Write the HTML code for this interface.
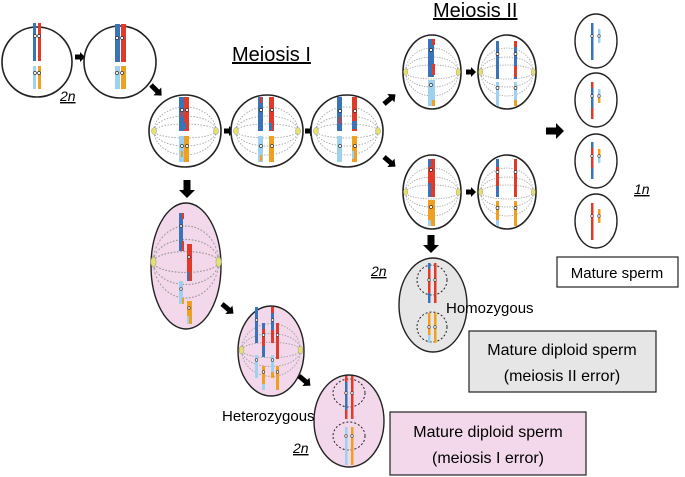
<!DOCTYPE html>
<html><head><meta charset="utf-8"><style>
html,body{margin:0;padding:0;background:#fff;}
svg{display:block;font-family:"Liberation Sans",Arial,sans-serif;}
</style></head><body>
<svg width="685" height="477" viewBox="0 0 685 477" xmlns="http://www.w3.org/2000/svg">
<defs>
<g id="sp">
 <g fill="none" stroke="#999" stroke-width="0.8" stroke-dasharray="1.5,1.5">
  <ellipse cx="0" cy="0" rx="31" ry="7"/>
  <ellipse cx="0" cy="0" rx="31" ry="15"/>
  <ellipse cx="0" cy="0" rx="31" ry="24"/>
 </g>
 <ellipse cx="-31" cy="0" rx="2.5" ry="3.5" fill="#e6e070" stroke="#999" stroke-width="0.5"/>
 <ellipse cx="31" cy="0" rx="2.5" ry="3.5" fill="#e6e070" stroke="#999" stroke-width="0.5"/>
</g>
<g id="spc"><circle r="36" fill="#fff" stroke="#222" stroke-width="1.6"/><use href="#sp"/></g>
<g id="spe"><ellipse rx="29" ry="37" fill="#fff" stroke="#222" stroke-width="1.6"/><g transform="scale(0.85,1)"><use href="#sp"/></g></g>
<g id="arr"><path d="M0,-2.5 L5,-2.5 L5,-5 L10,0 L5,5 L5,2.5 L0,2.5Z" fill="#000"/></g>
<g id="darr"><path d="M0,-2.5 L9,-2.5 L9,-5.5 L15,0 L9,5.5 L9,2.5 L0,2.5Z" fill="#000"/></g>
<g id="bigarr"><path d="M0,-3.5 L10,-3.5 L10,-8 L18,0 L10,8 L10,3.5 L0,3.5Z" fill="#000"/></g>
</defs>

<circle cx="37" cy="62" r="35" fill="#fff" stroke="#222" stroke-width="1.6"/>
<rect x="33" y="23" width="3" height="38" fill="#3a74b8"/><rect x="38" y="23" width="3" height="38" fill="#e03a2a"/>
<rect x="33" y="66" width="3" height="23" fill="#9fd0ee"/><rect x="38" y="66" width="3" height="23" fill="#f0a020"/>
<circle cx="35" cy="36" r="1.5" fill="#fff" stroke="#333" stroke-width="0.7"/><circle cx="39" cy="36" r="1.5" fill="#fff" stroke="#333" stroke-width="0.7"/>
<circle cx="35" cy="73" r="1.5" fill="#fff" stroke="#333" stroke-width="0.7"/><circle cx="39" cy="73" r="1.5" fill="#fff" stroke="#333" stroke-width="0.7"/>
<use href="#arr" x="75" y="57"/>
<circle cx="120" cy="62" r="36" fill="#fff" stroke="#222" stroke-width="1.6"/>
<rect x="115" y="24" width="5" height="38" fill="#3a74b8"/><rect x="121" y="24" width="5" height="38" fill="#e03a2a"/>
<rect x="115" y="66" width="5" height="23" fill="#9fd0ee"/><rect x="121" y="66" width="5" height="23" fill="#f0a020"/>
<circle cx="117" cy="38" r="1.5" fill="#fff" stroke="#333" stroke-width="0.7"/><circle cx="122" cy="38" r="1.5" fill="#fff" stroke="#333" stroke-width="0.7"/>
<circle cx="117" cy="73" r="1.5" fill="#fff" stroke="#333" stroke-width="0.7"/><circle cx="122" cy="73" r="1.5" fill="#fff" stroke="#333" stroke-width="0.7"/>
<text x="60" y="101" font-size="14" font-style="italic" text-decoration="underline">2n</text>
<text x="232" y="61" font-size="20" text-decoration="underline">Meiosis I</text>
<use href="#darr" transform="translate(151,85) rotate(45)"/>

<g transform="translate(185,131)"><use href="#spc"/>
 <rect x="-6" y="-34" width="5" height="34" fill="#3a74b8"/><rect x="-1" y="-34" width="5" height="34" fill="#e03a2a"/>
 <rect x="-4" y="-20" width="2" height="6" fill="#e03a2a"/><rect x="-1" y="-8" width="2" height="6" fill="#3a74b8"/>
 <rect x="-6" y="5" width="5" height="26" fill="#9fd0ee"/><rect x="-1" y="5" width="5" height="26" fill="#f0a020"/>
 <rect x="-4" y="20" width="2" height="6" fill="#f0a020"/>
 <circle cx="-3" cy="-21" r="1.5" fill="#fff" stroke="#333" stroke-width="0.7"/><circle cx="2" cy="-21" r="1.5" fill="#fff" stroke="#333" stroke-width="0.7"/>
 <circle cx="-3" cy="15" r="1.5" fill="#fff" stroke="#333" stroke-width="0.7"/><circle cx="2" cy="15" r="1.5" fill="#fff" stroke="#333" stroke-width="0.7"/>
</g>
<use href="#arr" x="224" y="131"/>
<g transform="translate(267,131)"><use href="#spc"/>
 <rect x="-9" y="-34" width="5" height="34" fill="#3a74b8"/><rect x="2" y="-34" width="5" height="34" fill="#e03a2a"/>
 <rect x="-7" y="-34" width="2" height="6" fill="#e03a2a"/><rect x="2" y="-8" width="3" height="7" fill="#3a74b8"/>
 <rect x="-9" y="5" width="5" height="26" fill="#9fd0ee"/><rect x="2" y="5" width="5" height="26" fill="#f0a020"/>
 <rect x="-7" y="24" width="2" height="6" fill="#f0a020"/>
 <circle cx="-6" cy="-21" r="1.5" fill="#fff" stroke="#333" stroke-width="0.7"/><circle cx="5" cy="-21" r="1.5" fill="#fff" stroke="#333" stroke-width="0.7"/>
 <circle cx="-6" cy="15" r="1.5" fill="#fff" stroke="#333" stroke-width="0.7"/><circle cx="5" cy="15" r="1.5" fill="#fff" stroke="#333" stroke-width="0.7"/>
</g>
<use href="#arr" x="305" y="131"/>
<g transform="translate(347,131)"><use href="#spc"/>
 <rect x="-10" y="-34" width="5" height="34" fill="#3a74b8"/><rect x="5" y="-34" width="5" height="34" fill="#e03a2a"/>
 <rect x="-8" y="-14" width="2" height="7" fill="#e03a2a"/><rect x="5" y="-10" width="5" height="8" fill="#3a74b8"/>
 <rect x="-10" y="5" width="5" height="26" fill="#9fd0ee"/><rect x="5" y="5" width="5" height="26" fill="#f0a020"/>
 <rect x="5" y="20" width="2" height="8" fill="#9fd0ee"/>
 <circle cx="-7" cy="-20" r="1.5" fill="#fff" stroke="#333" stroke-width="0.7"/><circle cx="8" cy="-20" r="1.5" fill="#fff" stroke="#333" stroke-width="0.7"/>
 <circle cx="-7" cy="15" r="1.5" fill="#fff" stroke="#333" stroke-width="0.7"/><circle cx="8" cy="15" r="1.5" fill="#fff" stroke="#333" stroke-width="0.7"/>
</g>
<use href="#darr" transform="translate(384,104) rotate(-40)"/>
<use href="#darr" transform="translate(384,157) rotate(40)"/>

<text x="433" y="17" font-size="20" text-decoration="underline">Meiosis II</text>
<g transform="translate(432,72)"><use href="#spe"/>
 <rect x="-4" y="-33" width="4" height="38" fill="#3a74b8"/><rect x="0" y="-33" width="2" height="38" fill="#3a74b8"/><rect x="0" y="-33" width="3" height="6" fill="#e03a2a"/><rect x="0" y="-8" width="3" height="11" fill="#e03a2a"/>
 <rect x="-4" y="8" width="7" height="26" fill="#9fd0ee"/><rect x="0" y="28" width="3" height="6" fill="#f0a020"/>
 <circle cx="-1" cy="-22" r="1.5" fill="#fff" stroke="#333" stroke-width="0.7"/><circle cx="-1" cy="13" r="1.5" fill="#fff" stroke="#333" stroke-width="0.7"/>
</g>
<use href="#arr" x="466" y="72"/>
<g transform="translate(507,72)"><use href="#spe"/>
 <rect x="-11" y="-31" width="3" height="38" fill="#3a74b8"/><rect x="7" y="-31" width="3" height="38" fill="#3a74b8"/><rect x="7" y="-31" width="3" height="6" fill="#e03a2a"/><rect x="7" y="-6" width="3" height="11" fill="#e03a2a"/>
 <rect x="-11" y="10" width="3" height="24" fill="#9fd0ee"/><rect x="7" y="10" width="3" height="24" fill="#9fd0ee"/><rect x="7" y="28" width="3" height="6" fill="#f0a020"/>
 <circle cx="-9.5" cy="-18" r="1.5" fill="#fff" stroke="#333" stroke-width="0.7"/><circle cx="8.5" cy="-18" r="1.5" fill="#fff" stroke="#333" stroke-width="0.7"/>
 <circle cx="-9.5" cy="16" r="1.5" fill="#fff" stroke="#333" stroke-width="0.7"/><circle cx="8.5" cy="16" r="1.5" fill="#fff" stroke="#333" stroke-width="0.7"/>
</g>
<g transform="translate(432,192)"><use href="#spe"/>
 <rect x="-4" y="-33" width="3" height="38" fill="#3a74b8"/><rect x="-1" y="-33" width="4" height="38" fill="#e03a2a"/><rect x="-4" y="-25" width="3" height="16" fill="#e03a2a"/>
 <rect x="-4" y="8" width="3" height="26" fill="#f0a020"/><rect x="-1" y="8" width="4" height="26" fill="#f0a020"/><rect x="-4" y="28" width="3" height="6" fill="#9fd0ee"/>
 <circle cx="-1" cy="-22" r="1.5" fill="#fff" stroke="#333" stroke-width="0.7"/><circle cx="-1" cy="15" r="1.5" fill="#fff" stroke="#333" stroke-width="0.7"/>
</g>
<use href="#arr" x="466" y="192"/>
<g transform="translate(507,192)"><use href="#spe"/>
 <rect x="-11" y="-33" width="3" height="38" fill="#e03a2a"/><rect x="-11" y="-33" width="3" height="8" fill="#3a74b8"/><rect x="-11" y="-6" width="3" height="11" fill="#3a74b8"/><rect x="7" y="-33" width="3" height="38" fill="#e03a2a"/>
 <rect x="-11" y="9" width="3" height="25" fill="#f0a020"/><rect x="-11" y="28" width="3" height="6" fill="#9fd0ee"/><rect x="7" y="9" width="3" height="25" fill="#f0a020"/>
 <circle cx="-9.5" cy="-20" r="1.5" fill="#fff" stroke="#333" stroke-width="0.7"/><circle cx="8.5" cy="-20" r="1.5" fill="#fff" stroke="#333" stroke-width="0.7"/>
 <circle cx="-9.5" cy="16" r="1.5" fill="#fff" stroke="#333" stroke-width="0.7"/><circle cx="8.5" cy="16" r="1.5" fill="#fff" stroke="#333" stroke-width="0.7"/>
</g>
<use href="#bigarr" x="546" y="131"/>

<g fill="#fff" stroke="#222" stroke-width="1.4">
 <ellipse cx="596" cy="41" rx="21" ry="27"/><ellipse cx="596" cy="100" rx="21" ry="27"/>
 <ellipse cx="596" cy="161" rx="21" ry="27"/><ellipse cx="596" cy="221" rx="21" ry="27"/>
</g>
<rect x="591" y="23" width="2.5" height="37" fill="#3a74b8"/><rect x="598" y="29" width="2.5" height="14" fill="#9fd0ee"/>
<rect x="591" y="82" width="2.5" height="37" fill="#3a74b8"/><rect x="591" y="82" width="2.5" height="6" fill="#e03a2a"/><rect x="591" y="108" width="2.5" height="11" fill="#e03a2a"/><rect x="598" y="89" width="2.5" height="14" fill="#9fd0ee"/><rect x="598" y="98" width="2.5" height="5" fill="#f0a020"/>
<rect x="591" y="142" width="2.5" height="37" fill="#e03a2a"/><rect x="591" y="142" width="2.5" height="6" fill="#3a74b8"/><rect x="591" y="168" width="2.5" height="11" fill="#3a74b8"/><rect x="598" y="149" width="2.5" height="14" fill="#f0a020"/><rect x="598" y="157" width="2.5" height="6" fill="#9fd0ee"/>
<rect x="591" y="203" width="2.5" height="37" fill="#e03a2a"/><rect x="598" y="209" width="2.5" height="14" fill="#f0a020"/>
<g fill="#fff" stroke="#333" stroke-width="0.6"><circle cx="592" cy="36" r="1.3"/><circle cx="599" cy="36" r="1.3"/><circle cx="592" cy="96" r="1.3"/><circle cx="599" cy="96" r="1.3"/><circle cx="592" cy="156" r="1.3"/><circle cx="599" cy="156" r="1.3"/><circle cx="592" cy="216" r="1.3"/><circle cx="599" cy="216" r="1.3"/></g>
<text x="634" y="194" font-size="14" font-style="italic" text-decoration="underline">1n</text>
<rect x="557" y="257" width="121" height="30" fill="#fff" stroke="#222" stroke-width="1.2"/>
<text x="617" y="278" font-size="15" text-anchor="middle">Mature sperm</text>

<use href="#bigarr" transform="translate(431,235) rotate(90)"/>
<text x="371" y="276" font-size="14" font-style="italic" text-decoration="underline">2n</text>
<ellipse cx="433" cy="305" rx="34" ry="47" fill="#e6e6e6" stroke="#222" stroke-width="1.4"/>
<circle cx="432" cy="280" r="15" fill="none" stroke="#222" stroke-width="1" stroke-dasharray="2,2"/>
<circle cx="432" cy="327" r="15" fill="none" stroke="#222" stroke-width="1" stroke-dasharray="2,2"/>
<rect x="428" y="263" width="2.5" height="40" fill="#e03a2a"/><rect x="428" y="263" width="2.5" height="6" fill="#3a74b8"/><rect x="428" y="293" width="2.5" height="10" fill="#3a74b8"/>
<rect x="434" y="263" width="2.5" height="40" fill="#e03a2a"/>
<rect x="428" y="313" width="2.5" height="30" fill="#f0a020"/><rect x="428" y="335" width="2.5" height="8" fill="#9fd0ee"/><rect x="434" y="313" width="2.5" height="30" fill="#f0a020"/>
<g fill="#fff" stroke="#333" stroke-width="0.6"><circle cx="429" cy="280" r="1.3"/><circle cx="435" cy="280" r="1.3"/><circle cx="429" cy="327" r="1.3"/><circle cx="435" cy="327" r="1.3"/></g>
<text x="446" y="313" font-size="15">Homozygous</text>
<rect x="469" y="331" width="187" height="61" fill="#e6e6e6" stroke="#222" stroke-width="1.2"/>
<text x="562" y="355" font-size="16" text-anchor="middle">Mature diploid sperm</text>
<text x="562" y="381" font-size="16" text-anchor="middle">(meiosis II error)</text>

<use href="#bigarr" transform="translate(187,180) rotate(90)"/>
<ellipse cx="186" cy="266" rx="35" ry="63" fill="#f2d8ea" stroke="#222" stroke-width="1.4"/>
<g transform="translate(186,262) scale(1.05,1.5)"><use href="#sp"/></g>
<rect x="179" y="213" width="4" height="38" fill="#3a74b8"/><rect x="182" y="213" width="2" height="6" fill="#e03a2a"/><rect x="182" y="241" width="2" height="10" fill="#e03a2a"/>
<rect x="187" y="244" width="5" height="37" fill="#e03a2a"/><rect x="187" y="272" width="2" height="9" fill="#3a74b8"/>
<rect x="179" y="281" width="4" height="23" fill="#9fd0ee"/><rect x="182" y="298" width="2" height="6" fill="#f0a020"/>
<rect x="187" y="301" width="5" height="23" fill="#f0a020"/><rect x="187" y="316" width="2" height="8" fill="#9fd0ee"/>
<g fill="#fff" stroke="#333" stroke-width="0.6"><circle cx="181" cy="226" r="1.3"/><circle cx="189" cy="257" r="1.3"/><circle cx="181" cy="289" r="1.3"/><circle cx="189" cy="308" r="1.3"/></g>
<use href="#darr" transform="translate(222,304) rotate(40)"/>
<ellipse cx="271" cy="351" rx="33" ry="45" fill="#f2d8ea" stroke="#222" stroke-width="1.4"/>
<g transform="translate(271,350) scale(0.95,1.1)"><use href="#sp"/></g>
<rect x="255" y="307" width="3" height="36" fill="#3a74b8"/>
<rect x="262" y="323" width="3" height="34" fill="#e03a2a"/><rect x="262" y="323" width="3" height="6" fill="#3a74b8"/><rect x="262" y="346" width="3" height="11" fill="#3a74b8"/>
<rect x="271" y="307" width="3" height="36" fill="#3a74b8"/><rect x="271" y="307" width="3" height="6" fill="#e03a2a"/><rect x="271" y="330" width="3" height="13" fill="#e03a2a"/>
<rect x="276" y="323" width="3" height="36" fill="#e03a2a"/>
<rect x="255" y="355" width="3" height="23" fill="#9fd0ee"/><rect x="262" y="366" width="3" height="24" fill="#f0a020"/><rect x="262" y="384" width="3" height="6" fill="#9fd0ee"/>
<rect x="271" y="355" width="3" height="23" fill="#9fd0ee"/><rect x="271" y="372" width="3" height="6" fill="#f0a020"/><rect x="276" y="366" width="3" height="24" fill="#f0a020"/>
<g fill="#fff" stroke="#333" stroke-width="0.6"><circle cx="256.5" cy="320" r="1.3"/><circle cx="272.5" cy="320" r="1.3"/><circle cx="263.5" cy="335" r="1.3"/><circle cx="277.5" cy="335" r="1.3"/><circle cx="256.5" cy="360" r="1.3"/><circle cx="272.5" cy="360" r="1.3"/><circle cx="263.5" cy="372" r="1.3"/><circle cx="277.5" cy="372" r="1.3"/></g>
<use href="#darr" transform="translate(299,376) rotate(40)"/>
<ellipse cx="349" cy="421" rx="35" ry="46" fill="#f2d8ea" stroke="#222" stroke-width="1.4"/>
<ellipse cx="349" cy="393" rx="16" ry="14" fill="none" stroke="#222" stroke-width="1" stroke-dasharray="2,2"/>
<ellipse cx="349" cy="436" rx="16" ry="14" fill="none" stroke="#222" stroke-width="1" stroke-dasharray="2,2"/>
<rect x="345" y="376" width="2.5" height="43" fill="#3a74b8"/><rect x="345" y="376" width="2.5" height="6" fill="#e03a2a"/><rect x="345" y="410" width="2.5" height="9" fill="#e03a2a"/>
<rect x="351" y="376" width="2.5" height="43" fill="#e03a2a"/>
<rect x="345" y="427" width="2.5" height="38" fill="#9fd0ee"/><rect x="351" y="427" width="2.5" height="38" fill="#f0a020"/>
<g fill="#fff" stroke="#333" stroke-width="0.6"><circle cx="346" cy="393" r="1.3"/><circle cx="352" cy="393" r="1.3"/><circle cx="346" cy="436" r="1.3"/><circle cx="352" cy="436" r="1.3"/></g>
<text x="222" y="421" font-size="15">Heterozygous</text>
<text x="293" y="453" font-size="14" font-style="italic" text-decoration="underline">2n</text>
<rect x="390" y="412" width="196" height="63" fill="#f2d8ea" stroke="#222" stroke-width="1.2"/>
<text x="488" y="437" font-size="16" text-anchor="middle">Mature diploid sperm</text>
<text x="488" y="463" font-size="16" text-anchor="middle">(meiosis I error)</text>
</svg>
</body></html>
